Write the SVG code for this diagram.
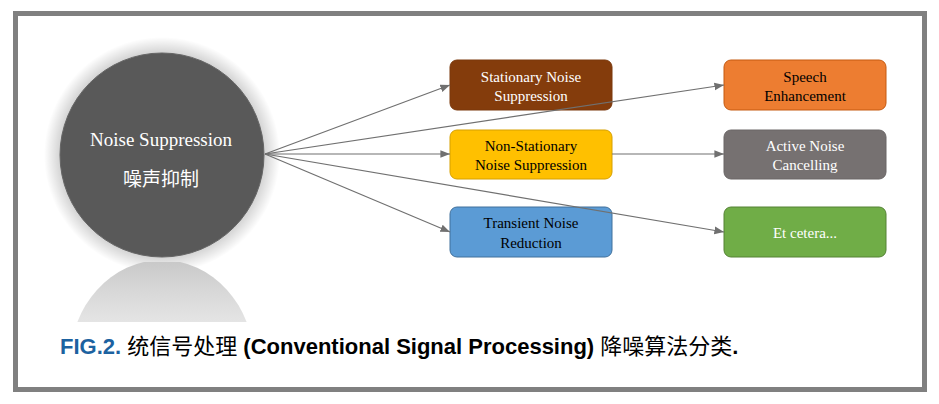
<svg xmlns="http://www.w3.org/2000/svg" width="939" height="404" viewBox="0 0 939 404">
<defs>
<style>
.box{stroke-width:1}
.t{font-family:"Liberation Serif","Noto Sans CJK SC",serif;font-size:15px;text-anchor:middle}
.c{stroke:#707070;stroke-width:1.2;fill:none;marker-end:url(#a)}
</style>
<marker id="a" viewBox="0 0 10 10" refX="10" refY="5" markerWidth="8" markerHeight="8" orient="auto"><path d="M0,1 L10,5 L0,9 z" fill="#707070"/></marker>
<radialGradient id="sh" cx="0.5" cy="0.5" r="0.5"><stop offset="0.8" stop-color="#000" stop-opacity="0.25"/><stop offset="1" stop-color="#000" stop-opacity="0"/></radialGradient>
<linearGradient id="rf" x1="0" y1="0" x2="0" y2="1"><stop offset="0" stop-color="#c8c8c8"/><stop offset="1" stop-color="#fff" stop-opacity="0"/></linearGradient>
<clipPath id="rc"><rect x="40" y="262" width="250" height="60"/></clipPath>
</defs>
<rect x="0" y="0" width="939" height="404" fill="#fff"/>
<rect x="15.5" y="13.5" width="909" height="376" fill="#fff" stroke="#808080" stroke-width="5"/>
<g id="hub">
<circle cx="162" cy="155" r="118" fill="url(#sh)"/>
<ellipse cx="162" cy="362" rx="92" ry="102" fill="url(#rf)" clip-path="url(#rc)"/>
<circle cx="162" cy="155" r="102" fill="#595959" stroke="#666" stroke-width="1"/>
<text class="t" x="161" y="146" fill="#fff" style="font-size:19px">Noise Suppression</text>
<text class="t" x="161" y="186" fill="#fff" style="font-size:19px">噪声抑制</text>
</g>
<g id="stationary"><rect class="box" x="450" y="60" width="162" height="50" rx="7" fill="#843c0c" stroke="#7a380c"/><text class="t" x="531" y="82" fill="#fff">Stationary Noise</text><text class="t" x="531" y="101" fill="#fff">Suppression</text></g>
<g id="nonstationary"><rect class="box" x="450" y="130" width="162" height="49" rx="7" fill="#ffc000" stroke="#d6a000"/><text class="t" x="531" y="151" fill="#000">Non-Stationary</text><text class="t" x="531" y="170" fill="#000">Noise Suppression</text></g>
<g id="transient"><rect class="box" x="450" y="207" width="162" height="50" rx="7" fill="#5b9bd5" stroke="#41719c"/><text class="t" x="531" y="228" fill="#000">Transient Noise</text><text class="t" x="531" y="248" fill="#000">Reduction</text></g>
<g id="speech"><rect class="box" x="724" y="60" width="162" height="50" rx="7" fill="#ed7d31" stroke="#c55a11"/><text class="t" x="805" y="82" fill="#000">Speech</text><text class="t" x="805" y="101" fill="#000">Enhancement</text></g>
<g id="anc"><rect class="box" x="724" y="130" width="162" height="49" rx="7" fill="#767171" stroke="#6a6666"/><text class="t" x="805" y="151" fill="#fff">Active Noise</text><text class="t" x="805" y="170" fill="#fff">Cancelling</text></g>
<g id="etc"><rect class="box" x="724" y="207" width="162" height="50" rx="7" fill="#70ad47" stroke="#548235"/><text class="t" x="805" y="238" fill="#fff">Et cetera...</text></g>
<g id="connectors">
<path class="c" d="M265,154 L450,85"/>
<path class="c" d="M265,154 L724,85"/>
<path class="c" d="M265,154 L450,154"/>
<path class="c" d="M265,154 L450,232"/>
<path class="c" d="M265,154 L724,232"/>
<path class="c" d="M612,154 L724,154"/>
</g>
<text x="60" y="354" style="font-family:'Liberation Sans','Noto Sans CJK SC',sans-serif;font-size:22px;font-weight:bold" fill="#000"><tspan fill="#1c62a0">FIG.2.</tspan><tspan font-weight="normal"> 统信号处理 </tspan>(Conventional Signal Processing)<tspan font-weight="normal"> 降噪算法分类</tspan>.</text>
</svg>
